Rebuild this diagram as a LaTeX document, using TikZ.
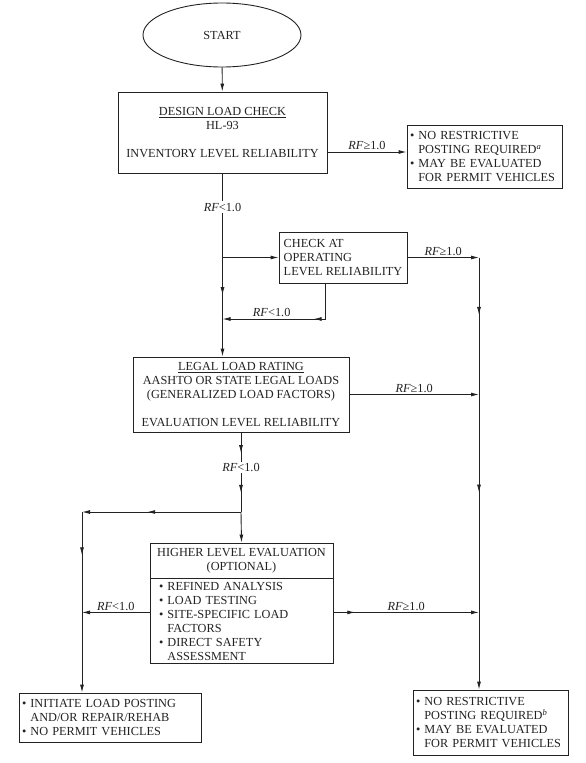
\documentclass[tikz,border=0pt]{standalone}
\usepackage{fontspec}
\setmainfont{Liberation Serif}
\usetikzlibrary{arrows.meta,shapes.geometric,positioning,decorations.markings}
\definecolor{ink}{HTML}{222222}
\newcommand{\bitem}{\textbullet\ }
\newcommand{\bcont}{\phantom{\textbullet\ }}
\newcommand{\rfge}{\textit{RF}≥1.0}
\newcommand{\rflt}{\textit{RF}<1.0}

\begin{document}
\begin{tikzpicture}[
  x=1pt, y=-1pt, font=\fontsize{12.3}{14}\selectfont, line width=0.9pt, ink,
  >={Latex[length=8pt,width=4pt]},
  box/.style={draw=ink, rectangle, align=center, inner sep=3pt},
  list/.style={box, align=left},
  lab/.style={font=\fontsize{12.3}{14}\selectfont, inner sep=1.5pt},
  arr/.style={->, draw=ink},
  midarr/.style={postaction={decorate, decoration={markings,
      mark=at position #1 with {\arrow{Latex[length=8pt,width=4pt]}}}}}]
\useasboundingbox (0,0) rectangle (586,763);
% ---------- start and design check
\node[draw=ink, ellipse, minimum width=158pt, minimum height=64pt] (start) at (222,35) {START};
\node[box, minimum width=209pt, minimum height=81pt] (design) at (222.5,132.5)
      {\underline{DESIGN LOAD CHECK}\\HL-93\\[14pt]INVENTORY LEVEL RELIABILITY};
\node[list, text width=149pt, minimum height=63pt] (nopost) at (484.5,156.5)
      {\bitem NO RESTRICTIVE\\\bcont POSTING REQUIRED\textsuperscript{\textit{a}}\\\bitem MAY BE EVALUATED\\\bcont FOR PERMIT VEHICLES};
% ---------- operating level and legal load rating
\node[list, minimum width=128pt, minimum height=51pt] (operate) at (343,257.5)
      {CHECK AT\\OPERATING\\LEVEL RELIABILITY};
\node[box, minimum width=216pt, minimum height=75pt] (legal) at (241,394.5)
      {\underline{LEGAL LOAD RATING}\\AASHTO OR STATE LEGAL LOADS\\(GENERALIZED LOAD FACTORS)\\[14pt]EVALUATION LEVEL RELIABILITY};
% ---------- higher level evaluation
\node[box, minimum width=183pt, minimum height=35pt] (hle) at (241.5,560.5)
      {HIGHER LEVEL EVALUATION\\(OPTIONAL)};
\node[list, text width=165pt, inner xsep=9pt, minimum height=85pt, below=0pt of hle] (hlelist)
      {\bitem REFINED ANALYSIS\\\bitem LOAD TESTING\\\bitem SITE-SPECIFIC LOAD\\\bcont FACTORS\\\bitem DIRECT SAFETY\\\bcont ASSESSMENT};
% ---------- outcomes
\node[list, text width=176pt, minimum height=49pt] (post) at (110,717.5)
      {\bitem INITIATE LOAD POSTING\\\bcont AND/OR REPAIR/REHAB\\\bitem NO PERMIT VEHICLES};
\node[list, text width=149pt, minimum height=65pt] (okpost) at (490.5,722.5)
      {\bitem NO RESTRICTIVE\\\bcont POSTING REQUIRED\textsuperscript{\textit{b}}\\\bitem MAY BE EVALUATED\\\bcont FOR PERMIT VEHICLES};
% ---------- junctions
\coordinate (d1) at ([yshift=-19.5pt]design.east);
\coordinate (j1) at (design.south |- operate.west);
\coordinate (j2) at (222.5,319);
\coordinate (o1) at ([xshift=-18pt]operate.south);
\coordinate (r1) at (479,257.5);
\coordinate (j3) at (241,512);
\coordinate (l1) at (82,512);
\coordinate (h1) at ([yshift=9pt]hlelist.west);
\coordinate (h2) at ([yshift=9pt]hlelist.east);
% ---------- edges
\draw[arr] (start) -- (design);
\draw[arr] (d1) -- node[above, lab] {\rfge} (d1 -| nopost.west);
\draw (design.south) -- node[pos=0.4, fill=white, lab] {\rflt} (j1);
\draw[arr] (j1) -- (operate.west);
\draw[arr, midarr=0.38] (j1) -- (j2 |- legal.north);
\draw[arr, midarr=0.34] (o1) |- node[pos=0.76, above, lab] {\rflt} (j2);
\draw[arr] (operate.east) -- node[above, lab] {\rfge} (r1);
\draw[arr, midarr=0.133, midarr=0.544] (r1) -- (r1 |- okpost.north);
\draw[arr] (legal.east) -- node[above, lab] {\rfge} (r1 |- legal.east);
\draw[midarr=0.26, midarr=0.76] (legal.south) -- node[pos=0.44, fill=white, lab] {\rflt} (j3);
\draw[arr] (j3) -- (hle.north);
\draw[arr, midarr=0.59] (j3) -- (l1);
\draw[arr, midarr=0.24] (l1) -- (l1 |- post.north);
\draw[arr] (h1) -- node[above, lab] {\rflt} (h1 -| l1);
\draw[arr, midarr=0.15] (h2) -- node[above, lab] {\rfge} (h2 -| r1);
\end{tikzpicture}
\end{document}
